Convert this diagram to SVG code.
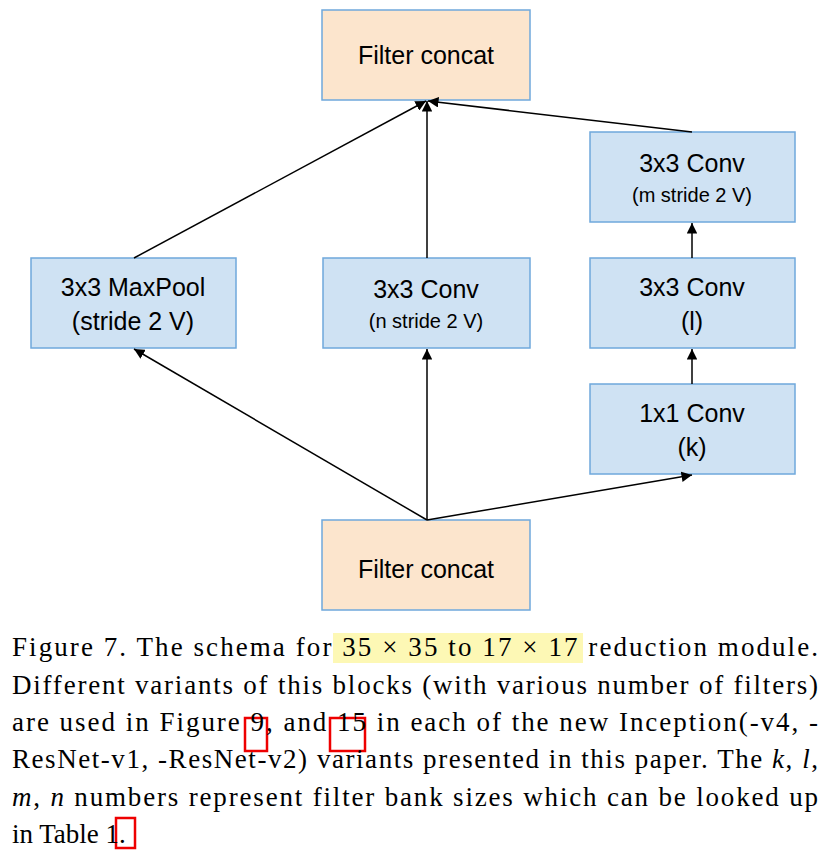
<svg xmlns="http://www.w3.org/2000/svg" width="832" height="850" viewBox="0 0 832 850">
<style>
.b{fill:#cfe2f3;stroke:#6fa8dc;stroke-width:1.5}
.o{fill:#fce5cd;stroke:#6fa8dc;stroke-width:1.5}
.t{font-family:"Liberation Sans",Arial,sans-serif;font-size:25px;fill:#000;text-anchor:middle}
.s{font-family:"Liberation Sans",Arial,sans-serif;font-size:20px;fill:#000;text-anchor:middle}
.c{font-family:"Liberation Serif","Times New Roman",serif;font-size:27px;fill:#000}
.e line{stroke:#000;stroke-width:1.5;marker-end:url(#a)}
.r{fill:none;stroke:#e00;stroke-width:2.5}
</style>
<defs><marker id="a" viewBox="0 0 10 10" refX="10" refY="5" markerWidth="7" markerHeight="7" orient="auto"><path d="M0,0L10,5L0,10z" fill="#000"/></marker></defs>
<rect width="832" height="850" fill="#fff"/>
<g id="top"><rect class="o" x="322" y="10" width="208" height="90"/><text class="t" x="426" y="64">Filter concat</text></g>
<g id="maxpool"><rect class="b" x="31" y="258" width="205" height="90"/><text class="t" x="133" y="296">3x3 MaxPool</text><text class="t" x="133" y="330">(stride 2 V)</text></g>
<g id="convn"><rect class="b" x="323" y="258" width="207" height="90"/><text class="t" x="426" y="298">3x3 Conv</text><text class="s" x="426" y="328">(n stride 2 V)</text></g>
<g id="convm"><rect class="b" x="590" y="132" width="205" height="90"/><text class="t" x="692" y="172">3x3 Conv</text><text class="s" x="692" y="202">(m stride 2 V)</text></g>
<g id="convl"><rect class="b" x="590" y="258" width="205" height="90"/><text class="t" x="692" y="296">3x3 Conv</text><text class="t" x="692" y="330">(l)</text></g>
<g id="convk"><rect class="b" x="590" y="384" width="205" height="90"/><text class="t" x="692" y="422">1x1 Conv</text><text class="t" x="692" y="456">(k)</text></g>
<g id="bottom"><rect class="o" x="322" y="520" width="208" height="90"/><text class="t" x="426" y="578">Filter concat</text></g>
<g class="e" id="connectors">
<line x1="427" y1="520" x2="134" y2="349"/>
<line x1="427" y1="520" x2="427" y2="349"/>
<line x1="427" y1="520" x2="692" y2="475"/>
<line x1="692" y1="384" x2="692" y2="349"/>
<line x1="692" y1="258" x2="692" y2="223"/>
<line x1="134" y1="258" x2="426" y2="101"/>
<line x1="427" y1="258" x2="427" y2="101"/>
<line x1="692" y1="132" x2="428" y2="101"/>
</g>
<g id="caption">
<rect x="333" y="633" width="250" height="30" fill="#fdf8b5"/>
<rect class="r" x="245" y="718" width="22" height="33"/>
<rect class="r" x="330" y="718" width="35" height="33"/>
<rect class="r" x="116" y="818" width="19" height="30"/>
<text class="c" x="12" y="656" textLength="806" lengthAdjust="spacing">Figure 7. The schema for 35 × 35 to 17 × 17 reduction module.</text>
<text class="c" x="12" y="694" textLength="806" lengthAdjust="spacing">Different variants of this blocks (with various number of filters)</text>
<text class="c" x="12" y="731" textLength="806" lengthAdjust="spacing">are used in Figure 9, and 15 in each of the new Inception(-v4, -</text>
<text class="c" x="12" y="768" textLength="806" lengthAdjust="spacing">ResNet-v1, -ResNet-v2) variants presented in this paper. The <tspan font-style="italic">k</tspan>, <tspan font-style="italic">l</tspan>,</text>
<text class="c" x="12" y="806" textLength="806" lengthAdjust="spacing"><tspan font-style="italic">m</tspan>, <tspan font-style="italic">n</tspan> numbers represent filter bank sizes which can be looked up</text>
<text class="c" x="12" y="843">in Table 1.</text>
</g>
</svg>
